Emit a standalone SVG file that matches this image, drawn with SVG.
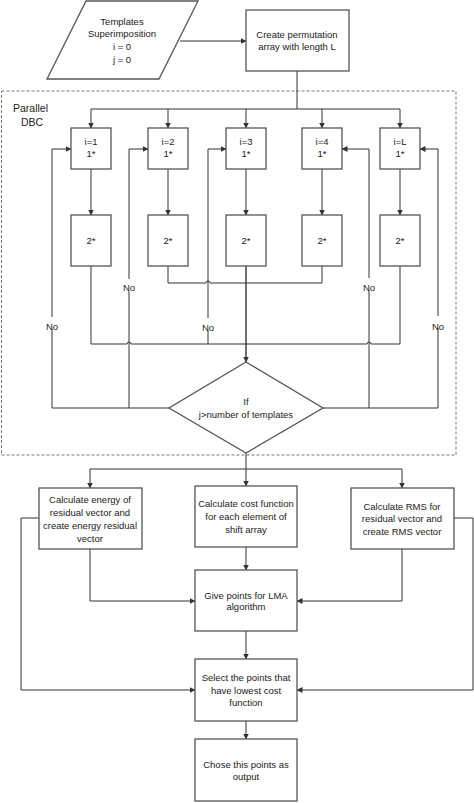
<svg xmlns="http://www.w3.org/2000/svg" width="474" height="803" viewBox="0 0 474 803">
<defs>
<marker id="ah" markerWidth="6" markerHeight="6" refX="5.5" refY="3" orient="auto" markerUnits="userSpaceOnUse">
<path d="M0,0 L6,3 L0,6 z" fill="#333"/>
</marker>
<style>
.b{fill:#fff;stroke:#555;stroke-width:1.3}
.t{font-family:"Liberation Sans",Arial,sans-serif;font-size:9.5px;fill:#222;text-anchor:middle}
.c{fill:none;stroke:#333;stroke-width:1}
.a{fill:none;stroke:#333;stroke-width:1;marker-end:url(#ah)}
</style>
</defs>
<rect width="474" height="803" fill="#fff"/>
<rect x="1.5" y="91" width="454.5" height="364" fill="none" stroke="#777" stroke-width="1" stroke-dasharray="3,2"/>
<text x="13" y="112" class="t" style="text-anchor:start;font-size:10.5px">Parallel</text>
<text x="32" y="126" class="t" style="font-size:10.5px">DBC</text>

<g id="connectors">
<path class="a" d="M180,41 H246"/>
<path class="c" d="M297,71 V109"/>
<path class="c" d="M91,109 H400"/>
<path class="a" d="M91,109 V128"/>
<path class="a" d="M168,109 V128"/>
<path class="a" d="M246,109 V128"/>
<path class="a" d="M322,109 V128"/>
<path class="a" d="M400,109 V128"/>
<path class="a" d="M91,169 V215"/>
<path class="a" d="M168,169 V215"/>
<path class="a" d="M246,169 V215"/>
<path class="a" d="M322,169 V215"/>
<path class="a" d="M400,169 V215"/>
<path class="c" d="M91,266 V344 H127 a2,2 0 0 1 4,0 H246"/>
<path class="c" d="M168,266 V283 H206 a2,2 0 0 1 4,0 H246"/>
<path class="c" d="M322,266 V283 H246"/>
<path class="c" d="M400,266 V344 H371 a2,2 0 0 0 -4,0 H246"/>
<path class="a" d="M246,266 V362" style="stroke-width:1.4"/>
<path class="a" d="M169,408 H52 V149 H71"/>
<path class="a" d="M129,408 V149 H148"/>
<path class="a" d="M208,344 V149 H226"/>
<path class="a" d="M323,408 H438 V149 H420"/>
<path class="a" d="M369,408 V149 H342"/>
<path class="c" d="M246,453 V469"/>
<path class="c" d="M90,469 H402"/>
<path class="a" d="M90,469 V488"/>
<path class="a" d="M246,469 V486"/>
<path class="a" d="M402,469 V488"/>
<path class="a" d="M90,549 V601 H195"/>
<path class="a" d="M246,547 V570"/>
<path class="a" d="M402,549 V601 H297"/>
<path class="a" d="M39,518 H21 V690 H195"/>
<path class="a" d="M454,518 H473 V690 H297"/>
<path class="a" d="M246,631 V659"/>
<path class="a" d="M246,721 V739"/>
</g>

<rect x="47" y="317" width="10" height="12" fill="#fff"/>
<rect x="124" y="279" width="10" height="12" fill="#fff"/>
<rect x="203" y="318" width="10" height="12" fill="#fff"/>
<rect x="364" y="278" width="10" height="12" fill="#fff"/>
<rect x="433" y="316" width="10" height="12" fill="#fff"/>
<g id="labels">
<text x="52" y="330" class="t">No</text>
<text x="129" y="291" class="t">No</text>
<text x="208" y="331" class="t">No</text>
<text x="369" y="291" class="t">No</text>
<text x="438" y="330" class="t">No</text>
</g>

<g id="start">
<polygon class="b" points="86,1 198,1 159,79 47,79"/>
<text x="122" y="25" class="t">Templates</text>
<text x="122" y="37" class="t">Superimposition</text>
<text x="122" y="50" class="t">i = 0</text>
<text x="122" y="63" class="t">j = 0</text>
</g>
<g id="perm">
<rect class="b" x="246" y="10" width="103" height="61"/>
<text x="297" y="38" class="t">Create permutation</text>
<text x="297" y="50" class="t">array with length L</text>
</g>

<g id="b1a"><rect class="b" x="71" y="128" width="40" height="41"/><text x="91" y="145" class="t">i=1</text><text x="91" y="157" class="t">1*</text></g>
<g id="b2a"><rect class="b" x="148" y="128" width="40" height="41"/><text x="168" y="145" class="t">i=2</text><text x="168" y="157" class="t">1*</text></g>
<g id="b3a"><rect class="b" x="226" y="128" width="40" height="41"/><text x="246" y="145" class="t">i=3</text><text x="246" y="157" class="t">1*</text></g>
<g id="b4a"><rect class="b" x="302" y="128" width="40" height="41"/><text x="322" y="145" class="t">i=4</text><text x="322" y="157" class="t">1*</text></g>
<g id="bLa"><rect class="b" x="380" y="128" width="40" height="41"/><text x="400" y="145" class="t">i=L</text><text x="400" y="157" class="t">1*</text></g>

<g id="b1b"><rect class="b" x="71" y="215" width="40" height="51"/><text x="91" y="244" class="t">2*</text></g>
<g id="b2b"><rect class="b" x="148" y="215" width="40" height="51"/><text x="168" y="244" class="t">2*</text></g>
<g id="b3b"><rect class="b" x="226" y="215" width="40" height="51"/><text x="246" y="244" class="t">2*</text></g>
<g id="b4b"><rect class="b" x="302" y="215" width="40" height="51"/><text x="322" y="244" class="t">2*</text></g>
<g id="bLb"><rect class="b" x="380" y="215" width="40" height="51"/><text x="400" y="244" class="t">2*</text></g>

<g id="decision">
<polygon class="b" points="246,362 323,408 246,453 169,408"/>
<text x="246" y="405" class="t">If</text>
<text x="246" y="418" class="t">j&gt;number of templates</text>
</g>

<g id="energy">
<rect class="b" x="39" y="488" width="103" height="61"/>
<text x="90" y="503" class="t">Calculate energy of</text>
<text x="90" y="516" class="t">residual vector and</text>
<text x="90" y="529" class="t">create energy residual</text>
<text x="90" y="542" class="t">vector</text>
</g>
<g id="cost">
<rect class="b" x="195" y="486" width="102" height="61"/>
<text x="246" y="507" class="t">Calculate cost function</text>
<text x="246" y="520" class="t">for each element of</text>
<text x="246" y="533" class="t">shift array</text>
</g>
<g id="rms">
<rect class="b" x="351" y="488" width="103" height="61"/>
<text x="402" y="510" class="t">Calculate RMS for</text>
<text x="402" y="522" class="t">residual vector and</text>
<text x="402" y="535" class="t">create RMS vector</text>
</g>
<g id="give">
<rect class="b" x="195" y="570" width="102" height="61"/>
<text x="246" y="599" class="t">Give points for LMA</text>
<text x="246" y="610" class="t">algorithm</text>
</g>
<g id="select">
<rect class="b" x="195" y="659" width="102" height="62"/>
<text x="246" y="681" class="t">Select the points that</text>
<text x="246" y="694" class="t">have lowest cost</text>
<text x="246" y="706" class="t">function</text>
</g>
<g id="chose">
<rect class="b" x="195" y="739" width="102" height="62"/>
<text x="246" y="768" class="t">Chose this points as</text>
<text x="246" y="780" class="t">output</text>
</g>
</svg>
